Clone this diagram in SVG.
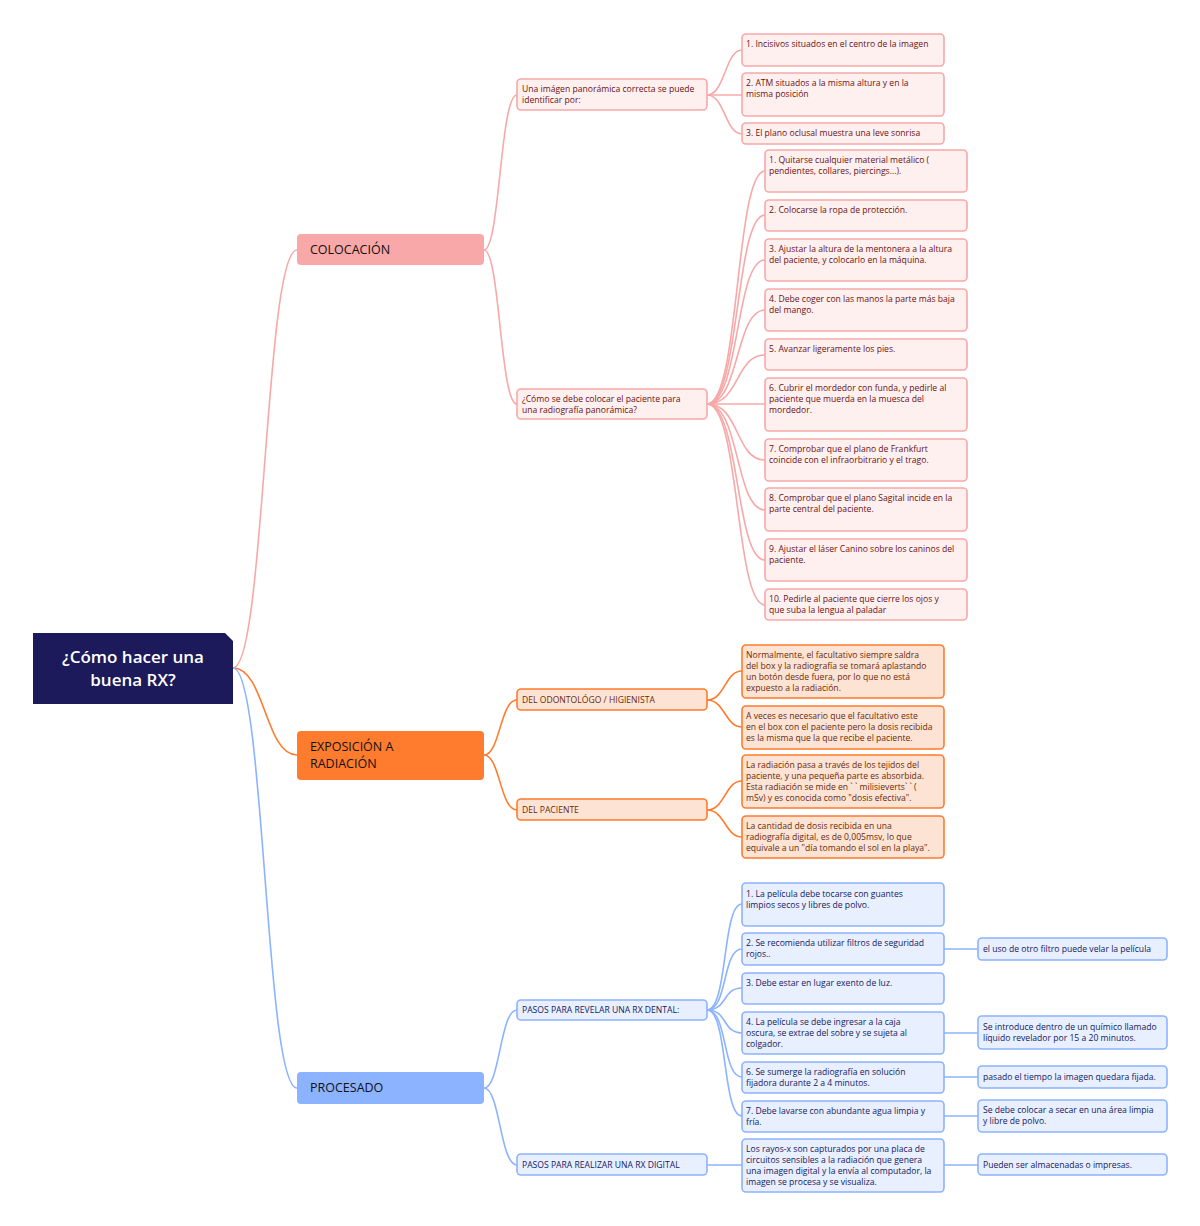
<svg xmlns="http://www.w3.org/2000/svg" width="1200" height="1226" viewBox="0 0 1200 1226">
<style>
text{font-family:"Open Sans","Liberation Sans",sans-serif;font-size:8.6px}
.cp{fill:none;stroke:#f8a8a8;stroke-width:1.6}
.co{fill:none;stroke:#ff7b2e;stroke-width:1.6}
.cb{fill:none;stroke:#8cb3ff;stroke-width:1.6}
.np{fill:#fff0f0;stroke:#f8a8a8;stroke-width:1.6}
.no{fill:#fde3d3;stroke:#ff7b2e;stroke-width:1.6}
.nb{fill:#e8efff;stroke:#8cb3ff;stroke-width:1.6}
.tp{fill:#6a1010}.to{fill:#6a2a08}.tb{fill:#142060}
.br{font-size:12.5px;fill:#111}
</style>
<rect width="1200" height="1226" fill="#fff"/>
<g id="connectors">
<path class="cp" d="M233 668 C265 668 265 250 297 250"/>
<path class="co" d="M233 668 C265 668 265 755 297 755"/>
<path class="cb" d="M233 668 C265 668 265 1088 297 1088"/>
<path class="cp" d="M484 250 C500 250 500 95 517 95"/>
<path class="cp" d="M484 250 C500 250 500 404 517 404"/>
<path class="co" d="M484 755 C500 755 500 700 517 700"/>
<path class="co" d="M484 755 C500 755 500 810 517 810"/>
<path class="cb" d="M484 1088 C500 1088 500 1010 517 1010"/>
<path class="cb" d="M484 1088 C500 1088 500 1165 517 1165"/>
<path class="cp" d="M707 95 C725 95 725 50 742 50"/>
<path class="cp" d="M707 95 C725 95 725 95 742 95"/>
<path class="cp" d="M707 95 C725 95 725 134 742 134"/>
<g class="cp">
<path d="M707 404 C740 404 735 171 765 171"/><path d="M707 404 C740 404 735 215 765 215"/><path d="M707 404 C740 404 735 260 765 260"/><path d="M707 404 C740 404 735 310 765 310"/><path d="M707 404 C740 404 735 355 765 355"/><path d="M707 404 C740 404 735 404 765 404"/><path d="M707 404 C740 404 735 460 765 460"/><path d="M707 404 C740 404 735 510 765 510"/><path d="M707 404 C740 404 735 560 765 560"/><path d="M707 404 C740 404 735 605 765 605"/>
</g>
<path class="co" d="M707 700 C725 700 725 671 742 671"/>
<path class="co" d="M707 700 C725 700 725 727 742 727"/>
<path class="co" d="M707 810 C725 810 725 781 742 781"/>
<path class="co" d="M707 810 C725 810 725 837 742 837"/>
<g class="cb">
<path d="M707 1010 C728 1010 722 904 742 904"/><path d="M707 1010 C728 1010 722 949 742 949"/><path d="M707 1010 C728 1010 722 988 742 988"/><path d="M707 1010 C728 1010 722 1033 742 1033"/><path d="M707 1010 C728 1010 722 1077 742 1077"/><path d="M707 1010 C728 1010 722 1116 742 1116"/>
<path d="M707 1165 C725 1165 725 1165 742 1165"/>
<path d="M944 949 C960 949 960 949 978 949"/><path d="M944 1033 C960 1033 960 1033 978 1033"/><path d="M944 1077 C960 1077 960 1077 978 1077"/><path d="M944 1116 C960 1116 960 1116 978 1116"/><path d="M944 1165 C960 1165 960 1165 978 1165"/>
</g>
</g>
<g id="root"><path d="M33 633 H225 L233 641 V704 H33 Z" fill="#1c1a5a"/><text x="133" y="663" text-anchor="middle" style="font-size:17px;fill:#fff;font-weight:600">¿Cómo hacer una</text><text x="133" y="686" text-anchor="middle" style="font-size:17px;fill:#fff;font-weight:600">buena RX?</text></g>
<g id="colocacion"><rect x="297" y="234" width="187" height="31" rx="4" fill="#f8a8a8"/><text class="br" x="310" y="254">COLOCACIÓN</text></g>
<g id="exposicion"><rect x="297" y="731" width="187" height="49" rx="4" fill="#ff7b2e"/><text class="br" x="310" y="751">EXPOSICIÓN A</text><text class="br" x="310" y="768">RADIACIÓN</text></g>
<g id="procesado"><rect x="297" y="1072" width="187" height="32" rx="4" fill="#8cb3ff"/><text class="br" x="310" y="1092">PROCESADO</text></g>
<g id="p1"><rect class="np" x="517" y="79" width="190" height="31" rx="4"/><text class="tp" x="522" y="92">Una imágen panorámica correcta se puede</text><text class="tp" x="522" y="103">identificar por:</text></g>
<g id="p2"><rect class="np" x="517" y="389" width="190" height="30" rx="4"/><text class="tp" x="522" y="402">¿Cómo se debe colocar el paciente para</text><text class="tp" x="522" y="413">una radiografía panorámica?</text></g>
<g id="p1a"><rect class="np" x="742" y="34" width="202" height="32" rx="4"/><text class="tp" x="746" y="47">1. Incisivos situados en el centro de la imagen</text></g>
<g id="p1b"><rect class="np" x="742" y="73" width="202" height="43" rx="4"/><text class="tp" x="746" y="86">2. ATM situados a la misma altura y en la</text><text class="tp" x="746" y="97">misma posición</text></g>
<g id="p1c"><rect class="np" x="742" y="123" width="202" height="21" rx="4"/><text class="tp" x="746" y="136">3. El plano oclusal muestra una leve sonrisa</text></g>
<g id="p2a"><rect class="np" x="765" y="150" width="202" height="42" rx="4"/><text class="tp" x="769" y="163">1. Quitarse cualquier material metálico (</text><text class="tp" x="769" y="174">pendientes, collares, piercings...).</text></g>
<g id="p2b"><rect class="np" x="765" y="200" width="202" height="31" rx="4"/><text class="tp" x="769" y="213">2. Colocarse la ropa de protección.</text></g>
<g id="p2c"><rect class="np" x="765" y="239" width="202" height="42" rx="4"/><text class="tp" x="769" y="252">3. Ajustar la altura de la mentonera a la altura</text><text class="tp" x="769" y="263">del paciente, y colocarlo en la máquina.</text></g>
<g id="p2d"><rect class="np" x="765" y="289" width="202" height="42" rx="4"/><text class="tp" x="769" y="302">4. Debe coger con las manos la parte más baja</text><text class="tp" x="769" y="313">del mango.</text></g>
<g id="p2e"><rect class="np" x="765" y="339" width="202" height="31" rx="4"/><text class="tp" x="769" y="352">5. Avanzar ligeramente los pies.</text></g>
<g id="p2f"><rect class="np" x="765" y="378" width="202" height="53" rx="4"/><text class="tp" x="769" y="391">6. Cubrir el mordedor con funda, y pedirle al</text><text class="tp" x="769" y="402">paciente que muerda en la muesca del</text><text class="tp" x="769" y="413">mordedor.</text></g>
<g id="p2g"><rect class="np" x="765" y="439" width="202" height="42" rx="4"/><text class="tp" x="769" y="452">7. Comprobar que el plano de Frankfurt</text><text class="tp" x="769" y="463">coincide con el infraorbitrario y el trago.</text></g>
<g id="p2h"><rect class="np" x="765" y="488" width="202" height="43" rx="4"/><text class="tp" x="769" y="501">8. Comprobar que el plano Sagital incide en la</text><text class="tp" x="769" y="512">parte central del paciente.</text></g>
<g id="p2i"><rect class="np" x="765" y="539" width="202" height="42" rx="4"/><text class="tp" x="769" y="552">9. Ajustar el láser Canino sobre los caninos del</text><text class="tp" x="769" y="563">paciente.</text></g>
<g id="p2j"><rect class="np" x="765" y="589" width="202" height="31" rx="4"/><text class="tp" x="769" y="602">10. Pedirle al paciente que cierre los ojos y</text><text class="tp" x="769" y="613">que suba la lengua al paladar</text></g>
<g id="o1"><rect class="no" x="517" y="689" width="190" height="21" rx="4"/><text class="to" x="522" y="703">DEL ODONTOLÓGO / HIGIENISTA</text></g>
<g id="o2"><rect class="no" x="517" y="799" width="190" height="21" rx="4"/><text class="to" x="522" y="813">DEL PACIENTE</text></g>
<g id="o1a"><rect class="no" x="742" y="645" width="202" height="53" rx="4"/><text class="to" x="746" y="658">Normalmente, el facultativo siempre saldra</text><text class="to" x="746" y="669">del box y la radiografía se tomará aplastando</text><text class="to" x="746" y="680">un botón desde fuera, por lo que no está</text><text class="to" x="746" y="691">expuesto a la radiación.</text></g>
<g id="o1b"><rect class="no" x="742" y="706" width="202" height="43" rx="4"/><text class="to" x="746" y="719">A veces es necesario que el facultativo este</text><text class="to" x="746" y="730">en el box con el paciente pero la dosis recibida</text><text class="to" x="746" y="741">es la misma que la que recibe el paciente.</text></g>
<g id="o2a"><rect class="no" x="742" y="755" width="202" height="53" rx="4"/><text class="to" x="746" y="768">La radiación pasa a través de los tejidos del</text><text class="to" x="746" y="779">paciente, y una pequeña parte es absorbida.</text><text class="to" x="746" y="790">Esta radiación se mide en ` ` milisieverts` `  (</text><text class="to" x="746" y="801">mSv) y es conocida como "dosis efectiva".</text></g>
<g id="o2b"><rect class="no" x="742" y="816" width="202" height="42" rx="4"/><text class="to" x="746" y="829">La cantidad de dosis recibida en una</text><text class="to" x="746" y="840">radiografía digital, es de 0,005msv, lo que</text><text class="to" x="746" y="851">equivale a un "día tomando el sol en la playa".</text></g>
<g id="b1"><rect class="nb" x="517" y="1000" width="190" height="20" rx="4"/><text class="tb" x="522" y="1013">PASOS PARA REVELAR UNA RX DENTAL:</text></g>
<g id="b2"><rect class="nb" x="517" y="1154" width="190" height="21" rx="4"/><text class="tb" x="522" y="1168">PASOS PARA REALIZAR UNA RX DIGITAL</text></g>
<g id="b1a"><rect class="nb" x="742" y="883" width="202" height="43" rx="4"/><text class="tb" x="746" y="897">1. La película debe tocarse con guantes</text><text class="tb" x="746" y="908">limpios secos y libres de polvo.</text></g>
<g id="b1b"><rect class="nb" x="742" y="933" width="202" height="32" rx="4"/><text class="tb" x="746" y="946">2. Se recomienda utilizar filtros de seguridad</text><text class="tb" x="746" y="957">rojos..</text></g>
<g id="b1c"><rect class="nb" x="742" y="973" width="202" height="31" rx="4"/><text class="tb" x="746" y="986">3. Debe estar en lugar exento de luz.</text></g>
<g id="b1d"><rect class="nb" x="742" y="1012" width="202" height="42" rx="4"/><text class="tb" x="746" y="1025">4. La película se debe ingresar a la caja</text><text class="tb" x="746" y="1036">oscura, se extrae del sobre y se sujeta al</text><text class="tb" x="746" y="1047">colgador.</text></g>
<g id="b1e"><rect class="nb" x="742" y="1062" width="202" height="31" rx="4"/><text class="tb" x="746" y="1075">6. Se sumerge la radiografía en solución</text><text class="tb" x="746" y="1086">fijadora durante 2 a 4 minutos.</text></g>
<g id="b1f"><rect class="nb" x="742" y="1101" width="202" height="31" rx="4"/><text class="tb" x="746" y="1114">7. Debe lavarse con abundante agua limpia y</text><text class="tb" x="746" y="1125">fría.</text></g>
<g id="b2a"><rect class="nb" x="742" y="1139" width="202" height="53" rx="4"/><text class="tb" x="746" y="1152">Los rayos-x son capturados por una placa de</text><text class="tb" x="746" y="1163">circuitos sensibles a la radiación que genera</text><text class="tb" x="746" y="1174">una imagen digital y la envía al computador, la</text><text class="tb" x="746" y="1185">imagen se procesa y se visualiza.</text></g>
<g id="c1"><rect class="nb" x="978" y="938" width="189" height="22" rx="4"/><text class="tb" x="983" y="952">el uso de otro filtro puede velar la película</text></g>
<g id="c2"><rect class="nb" x="978" y="1016" width="189" height="33" rx="4"/><text class="tb" x="983" y="1030">Se introduce dentro de un químico llamado</text><text class="tb" x="983" y="1041">líquido revelador por 15 a 20 minutos.</text></g>
<g id="c3"><rect class="nb" x="978" y="1066" width="189" height="22" rx="4"/><text class="tb" x="983" y="1080">pasado el tiempo la imagen quedara fijada.</text></g>
<g id="c4"><rect class="nb" x="978" y="1100" width="189" height="32" rx="4"/><text class="tb" x="983" y="1113">Se debe colocar a secar en una área limpia</text><text class="tb" x="983" y="1124">y libre de polvo.</text></g>
<g id="c5"><rect class="nb" x="978" y="1154" width="189" height="21" rx="4"/><text class="tb" x="983" y="1168">Pueden ser almacenadas o impresas.</text></g>
</svg>
